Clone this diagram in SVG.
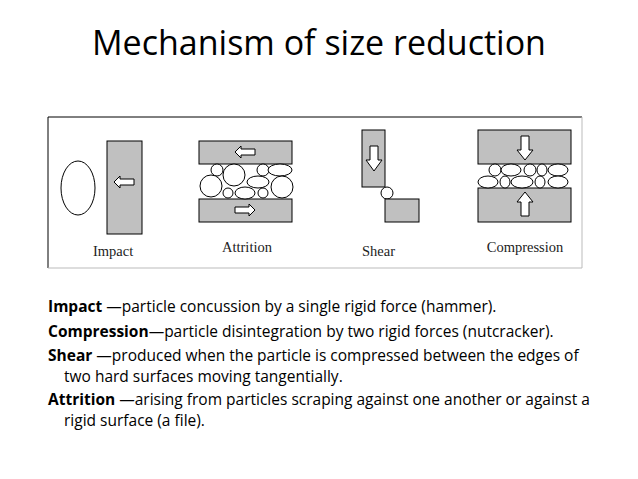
<svg xmlns="http://www.w3.org/2000/svg" width="638" height="479" viewBox="0 0 638 479">
<style>
.p{fill:#c0c0c0;stroke:#000;stroke-width:1}
.w{fill:#fff;stroke:#000;stroke-width:1}
.lbl{font-family:"Liberation Serif",serif;font-size:14.5px;fill:#222}
.t{font-family:"Open Sans","Liberation Sans",sans-serif;font-size:15.5px;fill:#000}
</style>
<defs>
<path id="al" d="M-10,0 L-4,-6 L-4,-3 L10,-3 L10,3 L-4,3 L-4,6 Z" class="w"/>
</defs>
<rect width="638" height="479" fill="#fff"/>
<text x="319" y="55" text-anchor="middle" font-family="Open Sans,Liberation Sans,sans-serif" font-size="34">Mechanism of size reduction</text>
<path d="M48,268 L48,117 L582,117" fill="none" stroke="#000"/>
<path d="M48,268 L582,268 L582,117" fill="none" stroke="#bbb"/>
<g id="impact">
<ellipse cx="78" cy="188" rx="17" ry="27" class="w"/>
<rect x="107" y="141" width="35" height="93" class="p"/>
<use href="#al" x="124" y="182"/>
<text x="93" y="256" class="lbl">Impact</text>
</g>
<g id="attrition">
<rect x="199" y="141" width="93" height="23" class="p"/>
<rect x="199" y="199" width="93" height="23" class="p"/>
<use href="#al" x="245" y="152"/>
<use href="#al" transform="translate(245,210) rotate(180)"/>
<circle cx="217" cy="170" r="6" class="w"/>
<circle cx="234" cy="175" r="11" class="w"/>
<circle cx="263" cy="170" r="6" class="w"/>
<ellipse cx="280" cy="170" rx="12" ry="6" class="w"/>
<circle cx="211" cy="186" r="11" class="w"/>
<ellipse cx="258" cy="182" rx="11" ry="6" class="w"/>
<circle cx="282" cy="187" r="11" class="w"/>
<circle cx="228" cy="193" r="5" class="w"/>
<ellipse cx="245" cy="193" rx="10" ry="6" class="w"/>
<circle cx="263" cy="193" r="5" class="w"/>
<text x="247" y="252" text-anchor="middle" class="lbl">Attrition</text>
</g>
<g id="shear">
<rect x="362" y="130" width="23" height="57" class="p"/>
<path d="M370,146 L378,146 L378,160 L382,160 L374,171 L366,160 L370,160 Z" class="w"/>
<circle cx="387" cy="193" r="6" class="w"/>
<rect x="385" y="199" width="34" height="23" class="p"/>
<text x="362" y="256" class="lbl">Shear</text>
</g>
<g id="compression">
<rect x="478" y="130" width="93" height="34" class="p"/>
<rect x="478" y="188" width="93" height="34" class="p"/>
<path d="M521,136 L529,136 L529,150 L533,150 L525,160 L517,150 L521,150 Z" class="w"/>
<path d="M521,216 L529,216 L529,202 L533,202 L525,192 L517,202 L521,202 Z" class="w"/>
<ellipse cx="495" cy="170" rx="6" ry="6" class="w"/>
<ellipse cx="511" cy="170" rx="10" ry="6" class="w"/>
<ellipse cx="530" cy="170" rx="6" ry="6" class="w"/>
<ellipse cx="542" cy="170" rx="5" ry="6" class="w"/>
<ellipse cx="558" cy="170" rx="10" ry="6" class="w"/>
<ellipse cx="488" cy="182" rx="10" ry="6" class="w"/>
<ellipse cx="505" cy="182" rx="5" ry="6" class="w"/>
<ellipse cx="522" cy="182" rx="11" ry="6" class="w"/>
<ellipse cx="540" cy="182" rx="5" ry="6" class="w"/>
<ellipse cx="558" cy="182" rx="10" ry="6" class="w"/>
<text x="525" y="252" text-anchor="middle" class="lbl">Compression</text>
</g>
<g class="t">
<text x="48" y="312"><tspan font-weight="bold">Impact</tspan> —particle concussion by a single rigid force (hammer).</text>
<text x="48" y="337"><tspan font-weight="bold">Compression</tspan>—particle disintegration by two rigid forces (nutcracker).</text>
<text x="48" y="361"><tspan font-weight="bold">Shear</tspan> —produced when the particle is compressed between the edges of</text>
<text x="64" y="382">two hard surfaces moving tangentially.</text>
<text x="48" y="405"><tspan font-weight="bold">Attrition</tspan> —arising from particles scraping against one another or against a</text>
<text x="64" y="426">rigid surface (a file).</text>
</g>
</svg>
